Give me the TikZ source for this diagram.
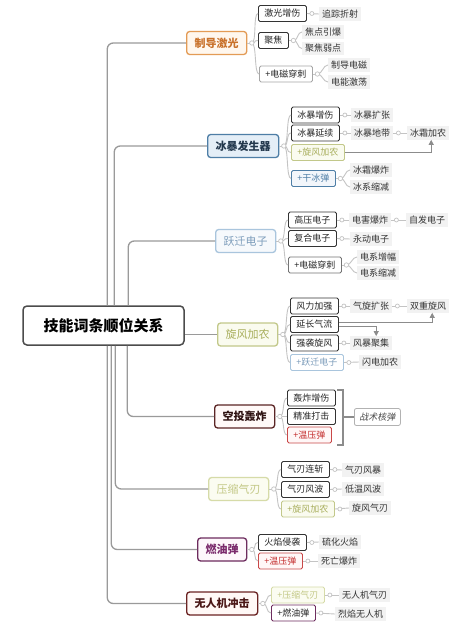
\documentclass[tikz,border=0pt]{standalone}
\usepackage{fontspec}
\newfontfamily\cjk{Noto Sans CJK SC}
\newfontfamily\cjkit{Noto Sans CJK SC}[FakeSlant=0.2]
\usetikzlibrary{arrows.meta,calc}
\definecolor{trc}{HTML}{9A9A9A}
\definecolor{lnc}{HTML}{C4C4C4}
\definecolor{arc}{HTML}{8C8C8C}
\definecolor{orB}{HTML}{E39B55}\definecolor{orF}{HTML}{FFF7EE}\definecolor{orT}{HTML}{C9722C}
\definecolor{icB}{HTML}{4E7EA6}\definecolor{icF}{HTML}{E4EEF7}\definecolor{icT}{HTML}{23384D}
\definecolor{elB}{HTML}{A9C5DD}\definecolor{elF}{HTML}{F6F9FC}\definecolor{elT}{HTML}{7D9DBB}
\definecolor{xfB}{HTML}{C2C88A}\definecolor{xfF}{HTML}{FAFBEF}\definecolor{xfT}{HTML}{A8AE5C}
\definecolor{ktB}{HTML}{5A2424}\definecolor{ktF}{HTML}{FFF9F8}\definecolor{ktT}{HTML}{2E1212}
\definecolor{ysB}{HTML}{D6DBA8}\definecolor{ysF}{HTML}{FBFCF1}\definecolor{ysT}{HTML}{C3C886}
\definecolor{ryB}{HTML}{6D2C5E}\definecolor{ryF}{HTML}{FDF7FB}\definecolor{ryT}{HTML}{7A2A6C}
\definecolor{wrB}{HTML}{6A2222}\definecolor{wrF}{HTML}{FFF8F6}\definecolor{wrT}{HTML}{4A1616}
\definecolor{rdB}{HTML}{C94848}\definecolor{rdT}{HTML}{C42E2E}
\tikzset{
  rootbox/.style={draw=black!70, line width=1.5pt, rounded corners=4pt, fill=white,
    minimum width=161pt, minimum height=39pt, text=black,
    font=\cjk\bfseries\fontsize{15}{17}\selectfont},
  mainb/.style={line width=1.3pt, rounded corners=3pt, minimum height=23pt, inner xsep=8pt,
    font=\cjk\bfseries\fontsize{11}{13}\selectfont},
  mainr/.style={line width=1.3pt, rounded corners=3pt, minimum height=23pt, inner xsep=8pt,
    font=\cjk\fontsize{11}{13}\selectfont},
  sub/.style={draw=black!80, line width=0.9pt, rounded corners=1.5pt, fill=white,
    minimum height=16pt, inner xsep=6pt, inner ysep=1pt, text=black!85,
    font=\cjk\fontsize{9}{11}\selectfont},
  leaf/.style={fill=black!5, inner xsep=3pt, inner ysep=2.5pt, text=black!80,
    font=\cjk\fontsize{9}{11}\selectfont},
  sumbox/.style={draw=black!30, line width=0.8pt, rounded corners=2pt, fill=white,
    minimum height=17pt, inner xsep=5pt, text=black!70,
    font=\cjkit\fontsize{9}{11}\selectfont},
  trunk/.style={draw=trc, line width=1.3pt, rounded corners=6pt},
  branch/.style={draw=lnc, line width=0.9pt},
  knobst/.style={draw=lnc, fill=white, line width=0.7pt},
  arr/.style={draw=arc, line width=1pt, -{Triangle[length=5pt,width=5pt]}},
  brk/.style={draw=arc, line width=1.1pt}
}
\newcommand\fan[2]{%
  \coordinate (fj) at ($(#1.east)+(4.5,0)$);
  \draw[branch] (#1.east) -- (fj);
  \foreach \c in {#2} {\draw[branch] (fj) to[out=0,in=180,distance=5pt] (\c.west);}
  \draw[knobst] (fj) circle (2.2pt);}
\newcommand\lk[2]{%
  \draw[branch] (#1.east) -- (#2.west);
  \draw[knobst] ($(#1.east)+(5,0)$) circle (2pt);}
\begin{document}
\begin{tikzpicture}[x=1pt,y=-1pt]
\fill[white] (0,0) rectangle (474,628);
\useasboundingbox (0,0) rectangle (474,628);

% root
\node[rootbox] (root) at (103.5,325.5) {技能词条顺位关系};

% main nodes
\node[mainb, draw=orB, fill=orF, text=orT, anchor=west] (zd) at (186,43) {制导激光};
\node[mainb, draw=icB, fill=icF, text=icT, anchor=west] (bb) at (207,146) {冰暴发生器};
\node[mainr, draw=elB, fill=elF, text=elT, anchor=west] (yq) at (215,241) {跃迁电子};
\node[mainr, draw=xfB, fill=xfF, text=xfT, anchor=west] (xf) at (217,334.5) {旋风加农};
\node[mainb, draw=ktB, fill=ktF, text=ktT, anchor=west] (kt) at (214,416.5) {空投轰炸};
\node[mainr, draw=ysB, fill=ysF, text=ysT, anchor=west] (ys) at (208,489) {压缩气刃};
\node[mainb, draw=ryB, fill=ryF, text=ryT, anchor=west] (ry) at (197,549.5) {燃油弹};
\node[mainb, draw=wrB, fill=wrF, text=wrT, anchor=west] (wr) at (186,603.5) {无人机冲击};

% trunk lines
\coordinate (t1) at ($(root.north west)+(85,0)$);
\coordinate (t2) at ($(root.north west)+(92,0)$);
\coordinate (t3) at ($(root.north west)+(106,0)$);
\coordinate (t5) at ($(root.south west)+(105,0)$);
\coordinate (t6) at ($(root.south west)+(93,0)$);
\coordinate (t7) at ($(root.south west)+(89,0)$);
\coordinate (t8) at ($(root.south west)+(85,0)$);
\draw[trunk] (t1) |- (zd.west);
\draw[trunk] (t2) |- (bb.west);
\draw[trunk] (t3) |- (yq.west);
\draw[trunk] (root.east |- xf.west) -- (xf.west);
\draw[trunk] (t5) |- (kt.west);
\draw[trunk] (t6) |- (ys.west);
\draw[trunk] (t7) |- (ry.west);
\draw[trunk] (t8) |- (wr.west);

% group 1
\node[sub, anchor=west] (a1) at (258,13.5) {激光增伤};
\node[sub, anchor=west] (a2) at (258,40.5) {聚焦};
\node[sub, anchor=west, draw=black!35] (a3) at (259,74) {+电磁穿刺};
\node[leaf, anchor=west] (a1l) at (319,14) {追踪折射};
\node[leaf, anchor=west] (a2l1) at (302,32) {焦点引爆};
\node[leaf, anchor=west] (a2l2) at (302,48.5) {聚焦弱点};
\node[leaf, anchor=west] (a3l1) at (328,65) {制导电磁};
\node[leaf, anchor=west] (a3l2) at (328,82) {电能激荡};
\fan{zd}{a1,a2,a3}
\lk{a1}{a1l}
\fan{a2}{a2l1,a2l2}
\fan{a3}{a3l1,a3l2}

% group 2
\node[sub, anchor=west] (b1) at (291,115) {冰暴增伤};
\node[sub, anchor=west] (b2) at (291,133) {冰暴延续};
\node[sub, anchor=west, draw=xfB, fill=xfF, text=xfT] (b3) at (291,152.5) {+旋风加农};
\node[sub, anchor=west, draw=icB, fill=icF!50, text=icB] (b4) at (291,178.5) {+干冰弹};
\node[leaf, anchor=west] (b1l) at (351,115) {冰暴扩张};
\node[leaf, anchor=west] (b2l) at (351,133) {冰暴地带};
\node[leaf, anchor=west] (b2m) at (407,133) {冰霜加农};
\node[leaf, anchor=west] (b4l1) at (350,170) {冰霜爆炸};
\node[leaf, anchor=west] (b4l2) at (350,187) {冰系缩减};
\fan{bb}{b1,b2,b3,b4}
\lk{b1}{b1l}
\lk{b2}{b2l}
\lk{b2l}{b2m}
\fan{b4}{b4l1,b4l2}
\draw[arr] (b3.east) -| ($(b2m.south)+(3,0)$);

% group 3
\node[sub, anchor=west] (c1) at (288,220) {高压电子};
\node[sub, anchor=west] (c2) at (288,238.5) {复合电子};
\node[sub, anchor=west, draw=black!55] (c3) at (288,265) {+电磁穿刺};
\node[leaf, anchor=west] (c1l) at (349,220) {电害爆炸};
\node[leaf, anchor=west] (c1m) at (406,220) {自发电子};
\node[leaf, anchor=west] (c2l) at (350,239) {永动电子};
\node[leaf, anchor=west] (c3l1) at (357,257) {电系增幅};
\node[leaf, anchor=west] (c3l2) at (357,273) {电系缩减};
\fan{yq}{c1,c2,c3}
\lk{c1}{c1l}
\lk{c1l}{c1m}
\lk{c2}{c2l}
\fan{c3}{c3l1,c3l2}

% group 4
\node[sub, anchor=west] (d1) at (290,306) {风力加强};
\node[sub, anchor=west] (d2) at (290,324.5) {延长气流};
\node[sub, anchor=west] (d3) at (290,343) {强袭旋风};
\node[sub, anchor=west, draw=elB, text=elT] (d4) at (290,362.5) {+跃迁电子};
\node[leaf, anchor=west] (d1l) at (350,306) {气旋扩张};
\node[leaf, anchor=west] (d1m) at (407,306) {双重旋风};
\node[leaf, anchor=west] (d3l) at (350,343) {风暴聚集};
\node[leaf, anchor=west] (d4l) at (359,362) {闪电加农};
\fan{xf}{d1,d2,d3,d4}
\lk{d1}{d1l}
\lk{d1l}{d1m}
\lk{d3}{d3l}
\lk{d4}{d4l}
\draw[arr] ([yshift=2.5pt]d2.east) -| ($(d1m.south)+(4,0)$);
\draw[arr] ([yshift=-1.5pt]d2.east) -| ($(d3l.north)+(5,0)$);

% group 5
\node[sub, anchor=west] (e1) at (287,398) {轰炸增伤};
\node[sub, anchor=west] (e2) at (287,416.5) {精准打击};
\node[sub, anchor=west, draw=rdB, fill=red!3, text=rdT] (e3) at (287,435) {+温压弹};
\node[sumbox, anchor=west] (hd) at (354,417) {战术核弹};
\fan{kt}{e1,e2,e3}
\coordinate (bk1) at (337,390);
\coordinate (bk2) at (343,390);
\coordinate (bk3) at (343,445);
\coordinate (bk4) at (337,445);
\coordinate (bkm) at (343,417);
\draw[brk] (bk1) -- (bk2) -- (bk3) -- (bk4);
\draw[brk] (bkm) -- (hd.west);

% group 6
\node[sub, anchor=west] (f1) at (281,469.5) {气刃连斩};
\node[sub, anchor=west] (f2) at (281,489.5) {气刃风波};
\node[sub, anchor=west, draw=xfB, fill=xfF, text=xfT] (f3) at (281,509) {+旋风加农};
\node[leaf, anchor=west] (f1l) at (342,470) {气刃风暴};
\node[leaf, anchor=west] (f2l) at (342,489) {低温风波};
\node[leaf, anchor=west] (f3l) at (349,508) {旋风气刃};
\fan{ys}{f1,f2,f3}
\lk{f1}{f1l}
\lk{f2}{f2l}
\lk{f3}{f3l}

% group 7
\node[sub, anchor=west] (g1) at (258,542.5) {火焰侵袭};
\node[sub, anchor=west, draw=rdB, fill=red!3, text=rdT] (g2) at (258,561) {+温压弹};
\node[leaf, anchor=west] (g1l) at (319,542) {硫化火焰};
\node[leaf, anchor=west] (g2l) at (318,561) {死亡爆炸};
\fan{ry}{g1,g2}
\lk{g1}{g1l}
\lk{g2}{g2l}

% group 8
\node[sub, anchor=west, draw=ysB, fill=ysF, text=ysT] (h1) at (271,595) {+压缩气刃};
\node[sub, anchor=west, draw=ryB] (h2) at (271,613) {+燃油弹};
\node[leaf, anchor=west] (h1l) at (339,595) {无人机气刃};
\node[leaf, anchor=west] (h2l) at (335,614) {烈焰无人机};
\fan{wr}{h1,h2}
\lk{h1}{h1l}
\lk{h2}{h2l}
\end{tikzpicture}
\end{document}
